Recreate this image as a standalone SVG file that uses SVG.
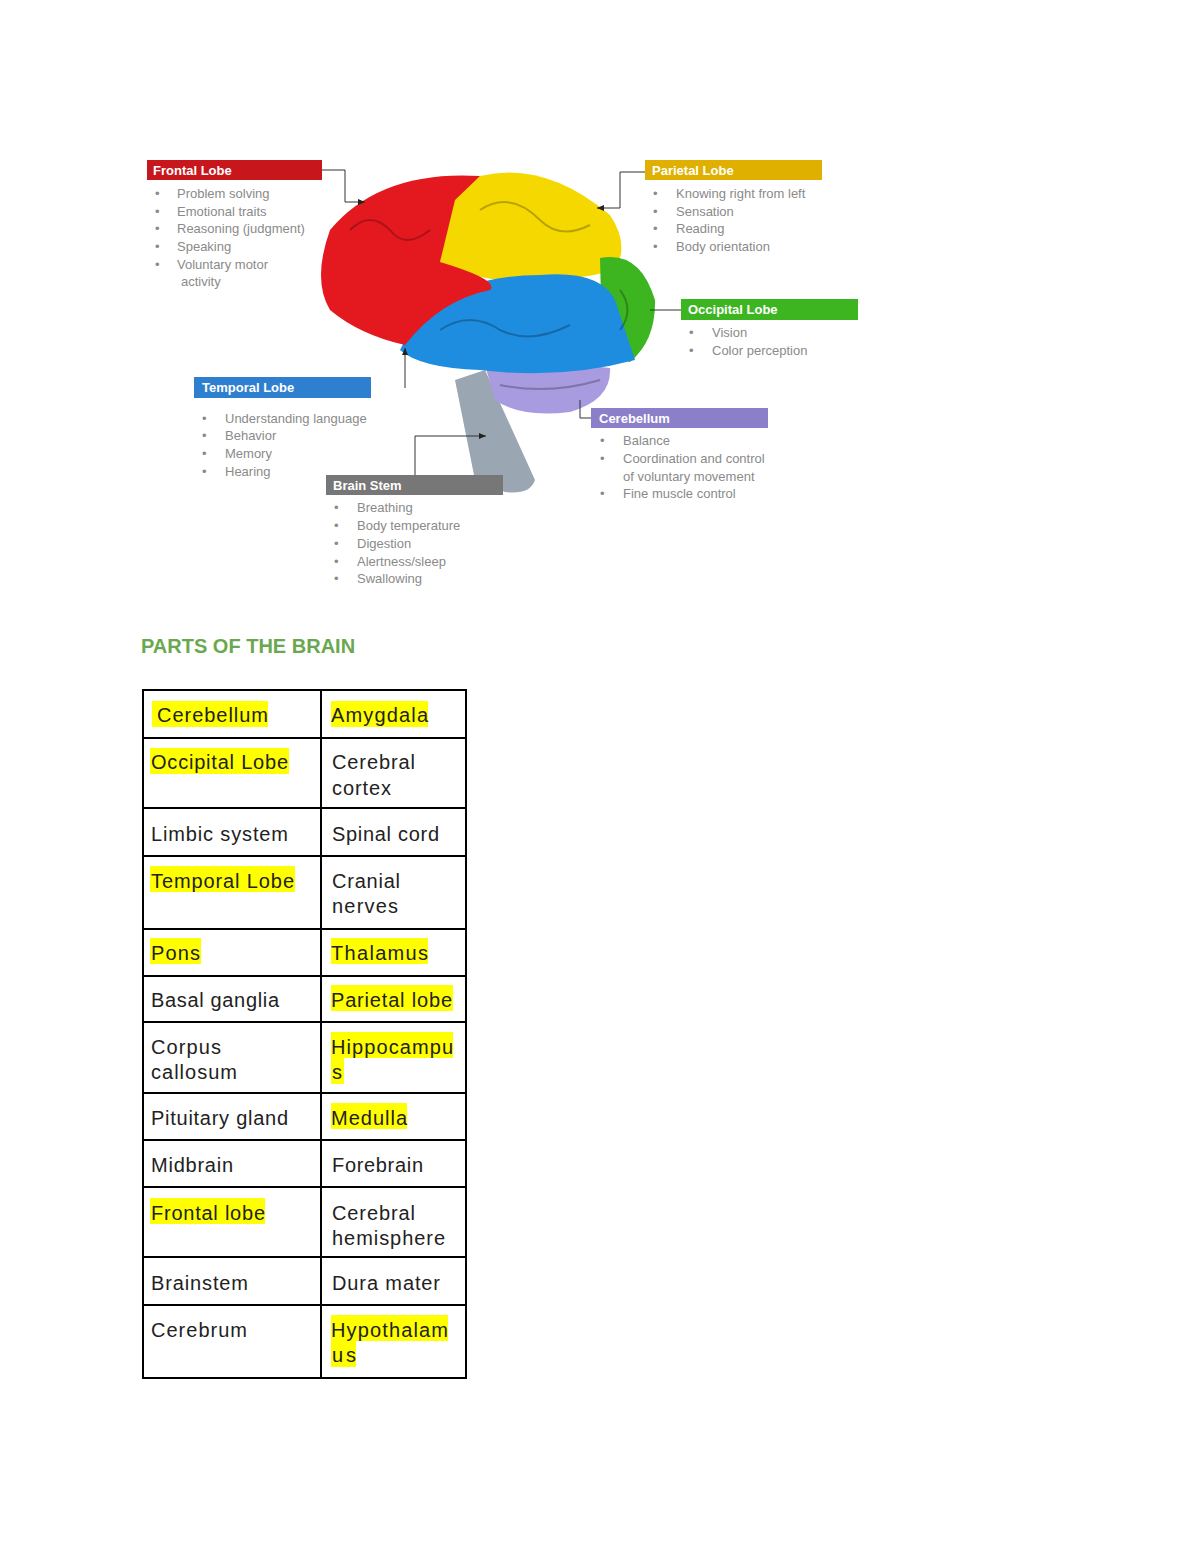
<svg xmlns="http://www.w3.org/2000/svg" width="1200" height="1553" viewBox="0 0 1200 1553">
<style>
.bar{font:bold 13px "Liberation Sans",Arial,sans-serif;fill:#fff}
.li{font:13px "Liberation Sans",Arial,sans-serif;fill:#8a8a8a}
.con{fill:none;stroke:#333;stroke-width:1}
.c{font:20px "Liberation Sans",Arial,sans-serif;fill:#222}
.hl{fill:#ffff00}
.g{fill:none;stroke:#000;stroke-width:2}
.gy{fill:none;stroke:rgba(0,0,0,0.25);stroke-width:2}
</style>
<defs><marker id="a" markerWidth="8" markerHeight="8" refX="7" refY="4" orient="auto"><path d="M0,1 L7,4 L0,7z" fill="#222"/></marker></defs>
<rect width="1200" height="1553" fill="#fff"/>
<g id="brain">
<path d="M475,480 L455,380 L485,370 L535,480 Q530,495 505,492 Z" fill="#9aa7b3"/>
<path d="M485,365 Q540,360 610,368 Q612,400 570,412 Q520,418 495,400 Z" fill="#a99be0"/>
<path d="M480,176 Q545,160 610,215 Q630,245 615,270 Q560,285 500,280 Q460,275 440,262 L450,200 Z" fill="#f5d800"/>
<path d="M600,258 Q640,250 655,300 Q656,340 630,362 L610,355 Q600,310 600,258 Z" fill="#3cb521"/>
<path d="M420,310 Q470,275 540,275 Q600,270 615,300 L635,360 Q560,380 480,370 Q420,368 400,350 Z" fill="#1e8de0"/>
<path d="M330,230 Q380,170 480,176 L455,200 L440,262 Q500,280 490,290 Q440,300 405,345 Q360,335 330,310 Q312,280 330,230 Z" fill="#e3191f"/>
<g class="gy"><path d="M350,230 q20,-20 40,0 q15,20 40,0"/><path d="M480,210 q30,-20 60,10 q20,20 50,5"/><path d="M440,330 q30,-20 60,0 q30,15 70,-5"/><path d="M620,290 q15,20 0,40"/><path d="M500,385 q50,10 100,-5"/></g>
</g>
<g id="frontal">
<rect x="147" y="160" width="175" height="20" fill="#c8161d"/><text class="bar" x="153" y="175">Frontal Lobe</text>
<g class="li"><text x="155" y="198">•</text><text x="177" y="198">Problem solving</text><text x="155" y="216">•</text><text x="177" y="216">Emotional traits</text><text x="155" y="233">•</text><text x="177" y="233">Reasoning (judgment)</text><text x="155" y="251">•</text><text x="177" y="251">Speaking</text><text x="155" y="269">•</text><text x="177" y="269">Voluntary motor</text><text x="181" y="286">activity</text></g>
</g>
<g id="parietal">
<rect x="645" y="160" width="177" height="20" fill="#e0b000"/><text class="bar" x="652" y="175">Parietal Lobe</text>
<g class="li"><text x="653" y="198">•</text><text x="676" y="198">Knowing right from left</text><text x="653" y="216">•</text><text x="676" y="216">Sensation</text><text x="653" y="233">•</text><text x="676" y="233">Reading</text><text x="653" y="251">•</text><text x="676" y="251">Body orientation</text></g>
</g>
<g id="occipital">
<rect x="681" y="299" width="177" height="21" fill="#3cb521"/><text class="bar" x="688" y="314">Occipital Lobe</text>
<g class="li"><text x="689" y="337">•</text><text x="712" y="337">Vision</text><text x="689" y="355">•</text><text x="712" y="355">Color perception</text></g>
</g>
<g id="temporal">
<rect x="194" y="377" width="177" height="21" fill="#2f7fd0"/><text class="bar" x="202" y="392">Temporal Lobe</text>
<g class="li"><text x="202" y="423">•</text><text x="225" y="423">Understanding language</text><text x="202" y="440">•</text><text x="225" y="440">Behavior</text><text x="202" y="458">•</text><text x="225" y="458">Memory</text><text x="202" y="476">•</text><text x="225" y="476">Hearing</text></g>
</g>
<g id="cerebellum">
<rect x="591" y="408" width="177" height="20" fill="#8b7fc9"/><text class="bar" x="599" y="423">Cerebellum</text>
<g class="li"><text x="600" y="445">•</text><text x="623" y="445">Balance</text><text x="600" y="463">•</text><text x="623" y="463">Coordination and control</text><text x="623" y="481">of voluntary movement</text><text x="600" y="498">•</text><text x="623" y="498">Fine muscle control</text></g>
</g>
<g id="brainstem">
<rect x="326" y="475" width="177" height="20" fill="#777"/><text class="bar" x="333" y="490">Brain Stem</text>
<g class="li"><text x="334" y="512">•</text><text x="357" y="512">Breathing</text><text x="334" y="530">•</text><text x="357" y="530">Body temperature</text><text x="334" y="548">•</text><text x="357" y="548">Digestion</text><text x="334" y="566">•</text><text x="357" y="566">Alertness/sleep</text><text x="334" y="583">•</text><text x="357" y="583">Swallowing</text></g>
</g>
<g id="connectors">
<path class="con" d="M322,170 H345 V202 H365" marker-end="url(#a)"/>
<path class="con" d="M645,172 H620 V208 H597" marker-end="url(#a)"/>
<path class="con" d="M681,310 H650"/>
<path class="con" d="M405,388 V348" marker-end="url(#a)"/>
<path class="con" d="M591,418 H580 V400"/>
<path class="con" d="M415,475 V436 H486" marker-end="url(#a)"/>
</g>
<text x="141" y="653" style="font:bold 20px 'Liberation Sans',Arial,sans-serif;fill:#6aa84f">PARTS OF THE BRAIN</text>
<g id="table">
<g class="hl">
<rect x="152" y="701" width="116" height="26"/><rect x="331" y="701" width="97" height="26"/>
<rect x="150" y="748" width="139" height="26"/>
<rect x="150" y="866" width="145" height="26"/>
<rect x="150" y="938" width="51" height="26"/><rect x="331" y="938" width="97" height="26"/>
<rect x="331" y="985" width="122" height="26"/>
<rect x="331" y="1032" width="122" height="26"/><rect x="331" y="1058" width="13" height="26"/>
<rect x="331" y="1103" width="76" height="26"/>
<rect x="150" y="1198" width="115" height="26"/>
<rect x="331" y="1315" width="117" height="26"/><rect x="331" y="1341" width="25" height="26"/>
</g>
<g class="c">
<text x="157" y="722" textLength="111">Cerebellum</text><text x="331" y="722" textLength="97">Amygdala</text>
<text x="151" y="769" textLength="137">Occipital Lobe</text><text x="332" y="769" textLength="83">Cerebral</text><text x="332" y="795" textLength="59">cortex</text>
<text x="151" y="841" textLength="137">Limbic system</text><text x="332" y="841" textLength="107">Spinal cord</text>
<text x="151" y="888" textLength="143">Temporal Lobe</text><text x="332" y="888" textLength="68">Cranial</text><text x="332" y="913" textLength="66">nerves</text>
<text x="151" y="960" textLength="49">Pons</text><text x="331" y="960" textLength="97">Thalamus</text>
<text x="151" y="1007" textLength="128">Basal ganglia</text><text x="331" y="1007" textLength="121">Parietal lobe</text>
<text x="151" y="1054" textLength="70">Corpus</text><text x="151" y="1079" textLength="86">callosum</text><text x="331" y="1054" textLength="122">Hippocampu</text><text x="332" y="1079">s</text>
<text x="151" y="1125" textLength="137">Pituitary gland</text><text x="331" y="1125" textLength="76">Medulla</text>
<text x="151" y="1172" textLength="82">Midbrain</text><text x="332" y="1172" textLength="91">Forebrain</text>
<text x="151" y="1220" textLength="114">Frontal lobe</text><text x="332" y="1220" textLength="83">Cerebral</text><text x="332" y="1245" textLength="113">hemisphere</text>
<text x="151" y="1290" textLength="97">Brainstem</text><text x="332" y="1290" textLength="108">Dura mater</text>
<text x="151" y="1337" textLength="96">Cerebrum</text><text x="331" y="1337" textLength="117">Hypothalam</text><text x="332" y="1362" textLength="24">us</text>
</g>
<rect class="g" x="143" y="690" width="323" height="688"/>
<path class="g" d="M321,690 V1378 M143,738 H466 M143,808 H466 M143,856 H466 M143,929 H466 M143,976 H466 M143,1022 H466 M143,1093 H466 M143,1140 H466 M143,1187 H466 M143,1257 H466 M143,1305 H466"/>
</g>
</svg>
